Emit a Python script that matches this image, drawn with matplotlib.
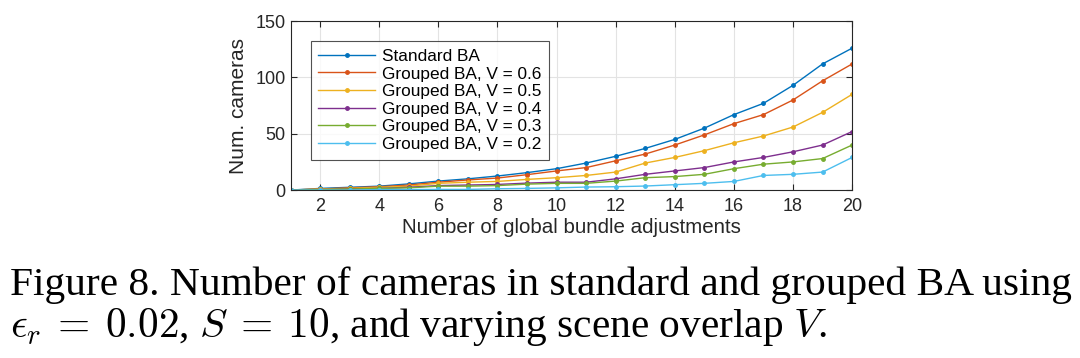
import matplotlib
matplotlib.use("Agg")
import matplotlib.pyplot as plt

# global bundle adjustment index
iterations = list(range(1, 21))

# number of cameras per configuration
standard_ba = [0, 1.5, 2.5, 3.5, 5.5, 8, 10, 12.5, 15.5, 19,
               24, 30, 37, 45, 55, 67, 77, 93, 112, 126]
grouped_06 = [0, 1, 2, 3, 4.5, 7, 9, 10.7, 13.7, 17,
              20, 26, 32, 40, 49, 59, 67, 80, 97, 112]
grouped_05 = [0, 1, 1.5, 2.5, 3.5, 6, 7, 7.7, 9.5, 11,
              13, 16, 24, 29, 35, 42, 48, 56, 69, 85]
grouped_04 = [0, 0.5, 1, 1.5, 2.5, 4, 4.5, 5, 6.2, 7,
              7, 10, 14, 17, 20, 25, 29, 34, 40, 52]
grouped_03 = [0, 0.5, 1, 1.5, 2, 3.5, 3.5, 4, 5.3, 6,
              6, 8, 11, 12, 14, 19, 23, 25, 28, 40]
grouped_02 = [0, 0, 0, 0.5, 0.5, 0.6, 0.6, 1.2, 1.5, 2,
              2.7, 3, 3.6, 4.8, 6, 7.7, 13, 14, 16, 29]

labels = ['Standard BA', 'Grouped BA, V = 0.6', 'Grouped BA, V = 0.5',
          'Grouped BA, V = 0.4', 'Grouped BA, V = 0.3', 'Grouped BA, V = 0.2']
colors = ['#0072BD', '#D95319', '#EDB120', '#7E2F8E', '#77AC30', '#4DBEEE']
series = [standard_ba, grouped_06, grouped_05, grouped_04, grouped_03, grouped_02]

plt.rcParams['font.family'] = ['Liberation Sans', 'DejaVu Sans']
plt.rcParams['mathtext.fontset'] = 'cm'

fig = plt.figure(figsize=(10.8, 3.58), dpi=100)
ax = fig.add_axes([0.269, 0.469, 0.52, 0.472])

for values, label, color in zip(series, labels, colors):
    ax.plot(iterations, values, '.-', color=color, label=label,
            linewidth=1.0, markersize=5)

ax.set_xlim(1, 20)
ax.set_ylim(0, 150)
ax.set_xticks(range(2, 21, 2))
ax.set_yticks([0, 50, 100, 150])
ax.grid(True, color='#e3e3e3', linewidth=0.8)
ax.set_axisbelow(True)
ax.tick_params(direction='in', top=True, right=True, labelsize=13,
               length=4, color='#262626', labelcolor='#262626')
ax.tick_params(axis='x', pad=6)
for spine in ax.spines.values():
    spine.set_color('#262626')
    spine.set_linewidth(0.8)

ax.set_xlabel('Number of global bundle adjustments', fontsize=14.75,
              color='#262626', labelpad=2)
ax.set_ylabel('Num. cameras', fontsize=15, color='#262626', labelpad=5)

leg = ax.legend(loc='upper left', bbox_to_anchor=(0.036, 0.882), fontsize=12.4,
                frameon=True, fancybox=False, edgecolor='#262626',
                borderpad=0.45, labelspacing=0.15, handlelength=3.3,
                handletextpad=0.4, borderaxespad=0)
leg.get_frame().set_linewidth(0.8)

fig.text(0.009, 0.176, 'Figure 8. Number of cameras in standard and grouped BA using',
         family='Liberation Serif', fontsize=29.8, ha='left', va='baseline')
fig.text(0.009, 0.059,
         r'$\epsilon_r\:=\:0.02$, $S\:=\:10$, and varying scene overlap $V$.',
         family='Liberation Serif', fontsize=29.8, ha='left', va='baseline')

fig.savefig('out.png', dpi=100)
